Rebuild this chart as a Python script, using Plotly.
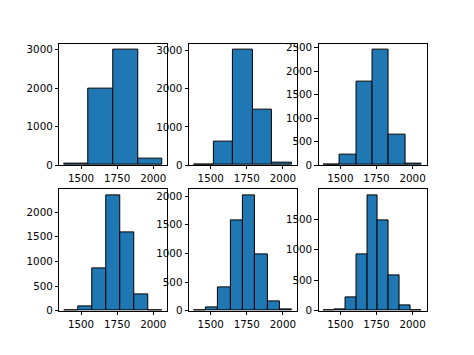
import numpy as np
import plotly.graph_objects as go

# Data: histogram counts of the same sample with increasing bin counts
data_min = 1383
data_max = 2063
counts_4 = [43, 1988, 3010, 178]
counts_5 = [15, 627, 3030, 1460, 60]
counts_6 = [7, 230, 1782, 2467, 650, 35]
counts_7 = [0, 86, 865, 2343, 1584, 337, 13]
counts_8 = [0, 57, 415, 1573, 2016, 988, 165, 17]
counts_9 = [0, 21, 214, 924, 1896, 1479, 587, 91, 3]
all_counts = [counts_4, counts_5, counts_6, counts_7, counts_8, counts_9]

x_ticks = [1500, 1750, 2000]
y_ticks = [
    [0, 1000, 2000, 3000],
    [0, 1000, 2000, 3000],
    [0, 500, 1000, 1500, 2000, 2500],
    [0, 500, 1000, 1500, 2000],
    [0, 500, 1000, 1500, 2000],
    [0, 500, 1000, 1500],
]

W, H = 474, 355
left, right, bottom, top = 0.125, 0.9, 0.11, 0.88
ws = hs = 0.2
cw = (right - left) / (3 + 2 * ws)
rh = (top - bottom) / (2 + hs)

fig = go.Figure()
font = dict(family="DejaVu Sans", size=10.3, color="black")
span = data_max - data_min
xr = [data_min - 0.05 * span, data_max + 0.05 * span]

for i, counts in enumerate(all_counts):
    r, c = divmod(i, 3)
    n = len(counts)
    edges = np.linspace(data_min, data_max, n + 1)
    centers = (edges[:-1] + edges[1:]) / 2
    bw = edges[1] - edges[0]
    suffix = "" if i == 0 else str(i + 1)
    fig.add_trace(go.Bar(
        x=centers, y=counts, width=[bw] * n,
        marker=dict(color="#1f77b4", line=dict(color="black", width=1)),
        xaxis="x" + suffix, yaxis="y" + suffix, showlegend=False,
    ))
    x0 = left + c * cw * (1 + ws)
    y1 = top - r * rh * (1 + hs)
    axis_common = dict(showline=True, mirror=True, linecolor="black", linewidth=0.8,
                       ticks="outside", ticklen=3.5, tickwidth=0.8, tickcolor="black",
                       showgrid=False, zeroline=False, tickfont=font)
    fig.update_layout(**{
        "xaxis" + suffix: dict(domain=[x0, x0 + cw], range=xr, tickvals=x_ticks,
                               anchor="y" + suffix, **axis_common),
        "yaxis" + suffix: dict(domain=[y1 - rh, y1], range=[0, 1.05 * max(counts)],
                               tickvals=y_ticks[i], anchor="x" + suffix, **axis_common),
    })

fig.update_layout(width=W, height=H, margin=dict(l=0, r=0, t=0, b=0),
                  paper_bgcolor="white", plot_bgcolor="white", bargap=0)
fig.write_html("out.html", config={"displayModeBar": False},
               post_script="document.body.style.margin='0';document.body.style.padding='0';")
